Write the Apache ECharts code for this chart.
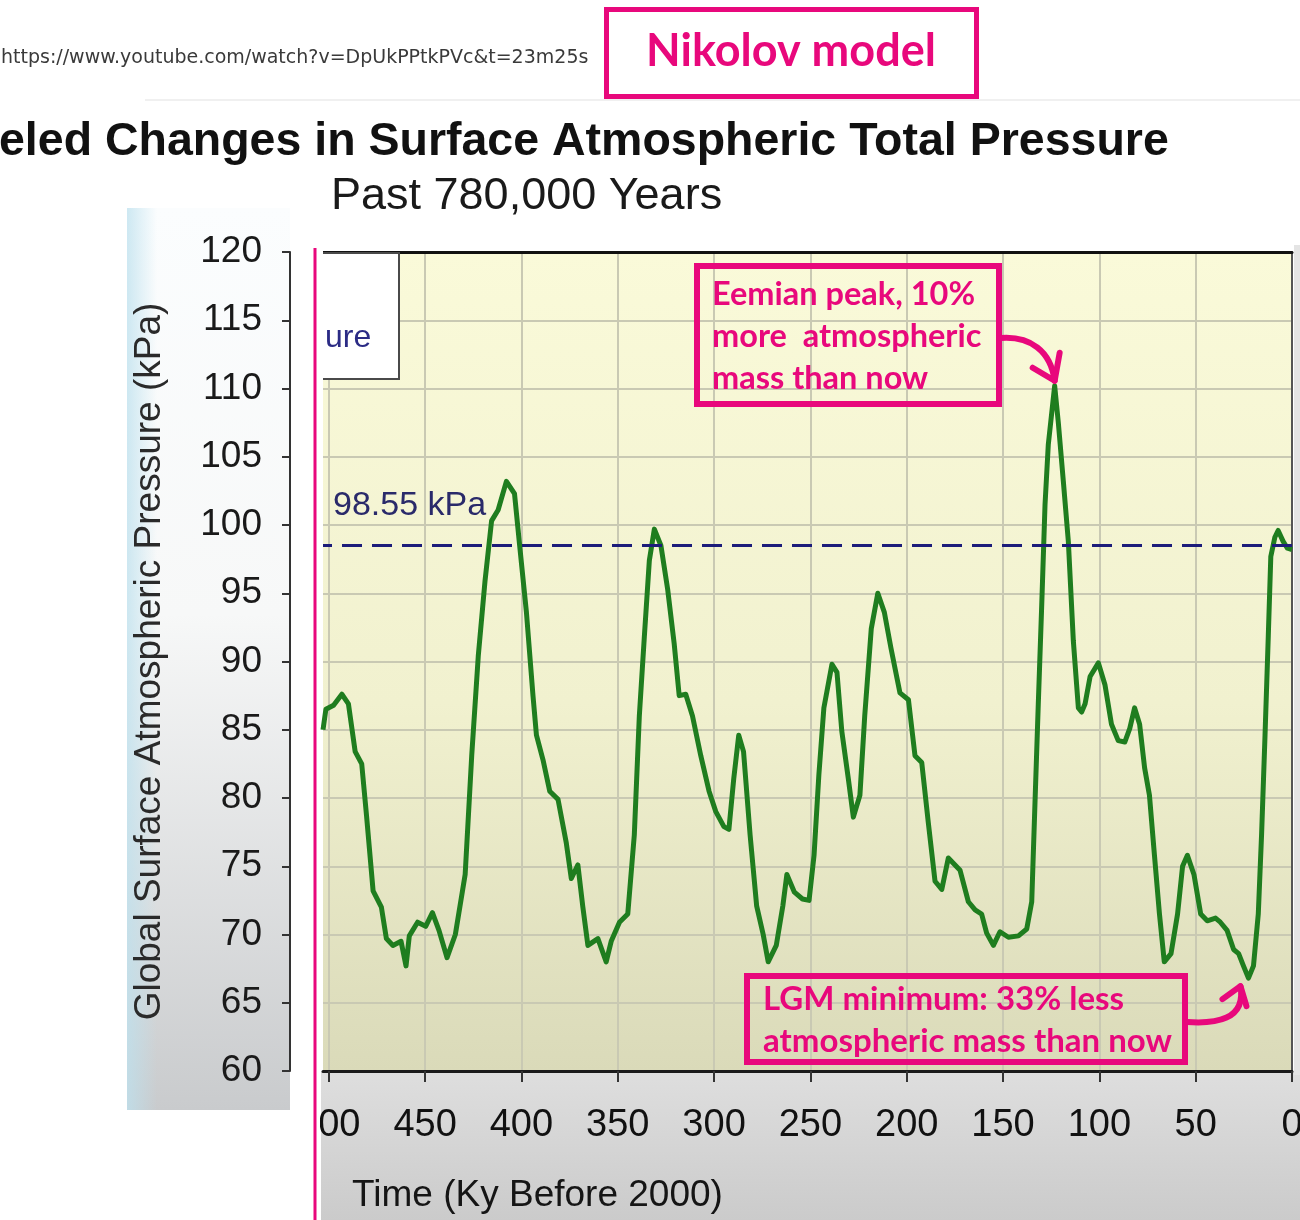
<!DOCTYPE html>
<html>
<head>
<meta charset="UTF-8">
<title>Nikolov model</title>
<style>
    html, body {
        margin: 0;
        padding: 0;
        background-color: #FFF;
    }
</style>
</head>
<body>
<div id="main" style="width:1300px;height:1220px"></div>

<script src="https://cdn.jsdelivr.net/npm/echarts/dist/echarts.min.js"></script>
<script type="text/javascript">
    // time, ky before 2000 (left to right)
    var ages = [503, 501.5, 497.5, 493.2, 489.8, 486.3, 482.9, 480.4, 477.0, 472.7,
        470.1, 466.7, 462.5, 459.9, 458.2, 453.9, 449.7, 446.2, 442.8, 438.6,
        434.3, 429.2, 425.8, 422.4, 418.9, 415.5, 412.1, 407.8, 403.6, 401.0,
        397.4, 394.0, 392.2, 388.8, 385.3, 381.0, 376.7, 374.1, 370.7, 368.1,
        365.5, 360.3, 356.0, 353.4, 349.1, 344.8, 341.4, 338.8, 336.2, 333.6,
        331.0, 327.6, 324.1, 320.7, 318.1, 314.7, 311.2, 306.9, 302.6, 299.1,
        294.9, 292.3, 289.8, 287.2, 284.7, 281.3, 277.9, 274.5, 271.9, 267.7,
        264.3, 262.2, 258.3, 254.1, 250.7, 248.1, 245.6, 243.0, 238.8, 236.2,
        233.7, 230.3, 227.7, 224.3, 221.8, 218.4, 215.0, 211.6, 208.2, 204.8,
        203.5, 199.1, 195.7, 192.2, 188.8, 185.3, 181.8, 178.4, 172.3, 168.0,
        164.5, 161.1, 158.5, 155.0, 151.6, 147.2, 142.0, 137.7, 135.1, 133.4,
        131.7, 129.9, 128.2, 126.5, 123.2, 121.3, 118.7, 116.1, 113.5, 110.9,
        109.2, 107.4, 104.8, 100.5, 97.1, 93.7, 90.2, 86.8, 84.2, 81.7,
        79.1, 76.5, 74.0, 71.4, 68.8, 66.3, 62.8, 59.4, 56.8, 54.3,
        50.9, 47.4, 44.0, 39.7, 37.2, 33.7, 30.3, 27.7, 25.2, 22.6,
        20.0, 17.5, 15.8, 14.0, 12.3, 11.0, 8.9, 7.2, 4.6, 2.4, 0];

    // global surface pressure, kPa
    var pressure = [85.0, 86.5, 86.8, 87.6, 86.9, 83.4, 82.5, 78.7, 73.2, 72.0,
        69.7, 69.2, 69.5, 67.7, 69.9, 70.9, 70.6, 71.6, 70.3, 68.3,
        70.0, 74.4, 83.1, 90.4, 95.9, 100.3, 101.1, 103.2, 102.3, 98.6,
        93.6, 87.5, 84.6, 82.8, 80.5, 79.9, 76.7, 74.1, 75.1, 72.0,
        69.2, 69.7, 68.0, 69.5, 70.9, 71.5, 77.3, 86.0, 91.8, 97.4,
        99.7, 98.5, 95.3, 91.3, 87.5, 87.6, 86.0, 83.1, 80.5, 79.0,
        77.9, 77.7, 81.4, 84.6, 83.4, 77.3, 72.1, 70.0, 68.0, 69.2,
        72.1, 74.4, 73.1, 72.6, 72.5, 75.8, 81.7, 86.6, 89.8, 89.2,
        84.9, 81.4, 78.6, 80.2, 86.0, 92.4, 95.0, 93.6, 91.0, 88.6,
        87.7, 87.2, 83.1, 82.6, 78.2, 73.9, 73.3, 75.6, 74.7, 72.4,
        71.8, 71.5, 70.1, 69.2, 70.2, 69.8, 69.9, 70.4, 72.4, 79.7,
        86.9, 94.2, 101.5, 105.9, 110.2, 107.5, 103.2, 98.8, 91.5, 86.6,
        86.3, 86.9, 88.9, 89.9, 88.3, 85.4, 84.2, 84.1, 85.1, 86.6,
        85.4, 82.2, 80.2, 75.8, 71.5, 68.0, 68.6, 71.5, 75.0, 75.8,
        74.4, 71.5, 71.0, 71.2, 70.9, 70.3, 68.9, 68.6, 67.7, 66.8,
        67.7, 71.5, 77.3, 84.6, 91.9, 97.7, 99.1, 99.6, 98.8, 98.3, 98.2];

    var timeTicks = [0, 50, 100, 150, 200, 250, 300, 350, 400, 450, 500];
    var refLevel = 98.55;
    var eemianIndex = 114;   // 123.2 ky
    var lgmIndex = 149;      // 22.6 ky

    var pink = '#e8087c';
    var axisFont = '"Liberation Sans", Arial, sans-serif';
    var noteFont = 'Lato, "Open Sans", sans-serif';

    var points = [];
    for (var i = 0; i < ages.length; i++) {
        points.push([ages[i], pressure[i]]);
    }

    var mCharts = echarts.init(document.getElementById('main'));

    var mOptions = {
        animation: false,
        backgroundColor: '#FFF',
        textStyle: {fontFamily: axisFont},
        grid: {
            left: 323,
            right: 8,
            top: 252,
            bottom: 149,
            containLabel: false,
            outerBoundsMode: 'none',
            show: true,
            borderWidth: 0,
            backgroundColor: new echarts.graphic.LinearGradient(0, 0, 0, 1, [
                {offset: 0, color: '#fafad9'},
                {offset: 0.55, color: '#f1f1cf'},
                {offset: 1, color: '#dadab9'}
            ])
        },
        xAxis: [{
            type: 'value',
            inverse: true,
            min: 0,
            max: 503,
            interval: 50,
            position: 'bottom',
            axisLine: {show: true, onZero: false, lineStyle: {color: '#1a1a1a', width: 3}},
            axisTick: {show: true, length: 11, customValues: timeTicks, lineStyle: {color: '#333', width: 2}},
            axisLabel: {
                customValues: timeTicks,
                fontSize: 38,
                color: '#111',
                margin: 36,
                fontFamily: axisFont
            },
            splitLine: {show: true, lineStyle: {color: '#c9c9b3', width: 2}},
            name: 'Time (Ky Before 2000)',
            nameLocation: 'middle',
            nameGap: 106,
            nameTextStyle: {fontSize: 37, color: '#151515', fontFamily: axisFont, padding: [0, 540, 0, 0]}
        }, {
            type: 'value',
            inverse: true,
            min: 0,
            max: 503,
            position: 'top',
            axisLine: {show: true, onZero: false, lineStyle: {color: '#111', width: 3}},
            axisTick: {show: false},
            axisLabel: {show: false},
            splitLine: {show: false}
        }],
        yAxis: [{
            type: 'value',
            min: 60,
            max: 120,
            interval: 5,
            position: 'left',
            offset: 33,
            axisLine: {show: true, onZero: false, lineStyle: {color: '#333', width: 2}},
            axisTick: {show: true, length: 8, lineStyle: {color: '#333', width: 2}},
            axisLabel: {fontSize: 37, color: '#1a1a1a', margin: 28, fontFamily: axisFont},
            splitLine: {show: true, lineStyle: {color: '#c9c9b3', width: 2}},
            name: 'Global Surface Atmospheric Pressure (kPa)',
            nameLocation: 'middle',
            nameGap: 122,
            nameRotate: 90,
            nameTextStyle: {fontSize: 37, color: '#2a2a2a', fontFamily: axisFont}
        }, {
            type: 'value',
            min: 60,
            max: 120,
            position: 'right',
            axisLine: {show: true, onZero: false, lineStyle: {color: '#555', width: 2}},
            axisTick: {show: false},
            axisLabel: {show: false},
            splitLine: {show: false}
        }],
        series: [{
            name: 'Pressure',
            type: 'line',
            data: points,
            showSymbol: false,
            symbol: 'none',
            lineStyle: {color: '#1f7d1f', width: 5, join: 'round'},
            z: 3,
            markLine: {
                silent: true,
                symbol: 'none',
                lineStyle: {color: '#1c1c7a', width: 3, type: [20, 10]},
                label: {
                    show: true,
                    position: 'insideEndTop',
                    formatter: '98.55 kPa',
                    fontSize: 34,
                    color: '#2a2a6a',
                    fontFamily: axisFont,
                    distance: [10, 22]
                },
                data: [{yAxis: refLevel}]
            }
        }]
    };

    mCharts.setOption(mOptions);

    // arrow tips follow the data points
    var pk = mCharts.convertToPixel({xAxisIndex: 0, yAxisIndex: 0}, points[eemianIndex]);
    var lg = mCharts.convertToPixel({xAxisIndex: 0, yAxisIndex: 0}, points[lgmIndex]);
    var t1 = [pk[0], pk[1] - 5];
    var t2 = [lg[0] - 8, lg[1] + 8];

    var graphics = [
        // panels behind the chart
        {type: 'rect', z: -10, shape: {x: 127, y: 208, width: 163, height: 902},
            style: {fill: new echarts.graphic.LinearGradient(0, 0, 0, 1, [
                {offset: 0, color: '#fbfdfe'},
                {offset: 0.45, color: '#f7f8f8'},
                {offset: 1, color: '#c9cbcd'}
            ])}},
        {type: 'rect', z: -9, shape: {x: 127, y: 208, width: 30, height: 902},
            style: {fill: new echarts.graphic.LinearGradient(0, 0, 1, 0, [
                {offset: 0, color: 'rgba(190,225,238,0.75)'},
                {offset: 1, color: 'rgba(190,225,238,0)'}
            ])}},
        {type: 'rect', z: -10, shape: {x: 321, y: 1072, width: 979, height: 148},
            style: {fill: new echarts.graphic.LinearGradient(0, 0, 0, 1, [
                {offset: 0, color: '#dedede'},
                {offset: 1, color: '#cbcbcb'}
            ])}},
        {type: 'rect', z: -10, shape: {x: 1294, y: 245, width: 6, height: 830}, style: {fill: '#e4e4e4'}},
        {type: 'line', z: -10, shape: {x1: 145, y1: 100, x2: 1300, y2: 100}, style: {stroke: '#f0f0f0', lineWidth: 2}},
        // cover for the cropped left part of the axis
        {type: 'rect', z: 50, shape: {x: 0, y: 1111, width: 314, height: 109}, style: {fill: '#fff'}},
        {type: 'rect', z: 50, shape: {x: 291, y: 1074, width: 29, height: 146}, style: {fill: '#fff'}},
        {type: 'line', z: 60, shape: {x1: 315, y1: 248, x2: 315, y2: 1220}, style: {stroke: pink, lineWidth: 3}},

        // header
        {type: 'text', z: 60, style: {text: 'https://www.youtube.com/watch?v=DpUkPPtkPVc&t=23m25s',
            x: 1, y: 58, font: '19px "DejaVu Sans", Verdana, sans-serif', fill: '#3a3a3a', verticalAlign: 'middle'}},
        {type: 'rect', z: 60, shape: {x: 606.5, y: 9.5, width: 370, height: 87},
            style: {fill: '#fff', stroke: pink, lineWidth: 5}},
        {type: 'text', z: 61, style: {text: 'Nikolov model', x: 791, y: 51,
            font: 'bold 45px ' + noteFont, fill: pink, align: 'center', verticalAlign: 'middle'}},
        {type: 'text', z: 60, style: {text: 'eled Changes in Surface Atmospheric Total Pressure',
            x: -1, y: 142, font: 'bold 46.5px ' + axisFont, fill: '#111', verticalAlign: 'middle'}},
        {type: 'text', z: 60, style: {text: 'Past 780,000 Years',
            x: 331, y: 197, font: '45px ' + axisFont, fill: '#1a1a1a', verticalAlign: 'middle'}},

        // cropped legend box
        {type: 'rect', z: 20, shape: {x: 318, y: 253, width: 81, height: 126},
            style: {fill: '#fff', stroke: '#4a4a4a', lineWidth: 2}},
        {type: 'rect', z: 21, shape: {x: 316, y: 250, width: 7, height: 132}, style: {fill: '#fff'}},
        {type: 'text', z: 22, style: {text: 'ure', x: 325, y: 338,
            font: '32px ' + axisFont, fill: '#2b2b85', verticalAlign: 'middle'}},

        // Eemian note
        {type: 'rect', z: 30, shape: {x: 697, y: 266, width: 302, height: 138},
            style: {fill: 'none', stroke: pink, lineWidth: 6}},
        {type: 'text', z: 30, style: {text: 'Eemian peak, 10%', x: 712, y: 295,
            font: 'bold 32.5px ' + noteFont, fill: pink, verticalAlign: 'middle'}},
        {type: 'text', z: 30, style: {text: 'more  atmospheric', x: 712, y: 337,
            font: 'bold 32.5px ' + noteFont, fill: pink, verticalAlign: 'middle'}},
        {type: 'text', z: 30, style: {text: 'mass than now', x: 712, y: 379,
            font: 'bold 32.5px ' + noteFont, fill: pink, verticalAlign: 'middle'}},
        {type: 'bezierCurve', z: 30, shape: {x1: 1001, y1: 338, cpx1: 1030, cpy1: 336, cpx2: t1[0] - 4, cpy2: t1[1] - 30, x2: t1[0], y2: t1[1]},
            style: {fill: 'none', stroke: pink, lineWidth: 6, lineCap: 'round'}},
        {type: 'polyline', z: 30, shape: {points: [[t1[0] - 22, t1[1] - 13], t1, [t1[0] + 5, t1[1] - 28]]},
            style: {fill: 'none', stroke: pink, lineWidth: 6, lineCap: 'round', lineJoin: 'round'}},

        // LGM note
        {type: 'rect', z: 30, shape: {x: 747, y: 976, width: 438, height: 86},
            style: {fill: 'none', stroke: pink, lineWidth: 6}},
        {type: 'text', z: 30, style: {text: 'LGM minimum: 33% less', x: 763, y: 999,
            font: 'bold 33px ' + noteFont, fill: pink, verticalAlign: 'middle'}},
        {type: 'text', z: 30, style: {text: 'atmospheric mass than now', x: 763, y: 1041,
            font: 'bold 33px ' + noteFont, fill: pink, verticalAlign: 'middle'}},
        {type: 'bezierCurve', z: 30, shape: {x1: 1187, y1: 1022, cpx1: 1215, cpy1: 1024, cpx2: t2[0] + 6, cpy2: t2[1] + 34, x2: t2[0], y2: t2[1]},
            style: {fill: 'none', stroke: pink, lineWidth: 6, lineCap: 'round'}},
        {type: 'polyline', z: 30, shape: {points: [[t2[0] - 18, t2[1] + 13], t2, [t2[0] + 6, t2[1] + 20]]},
            style: {fill: 'none', stroke: pink, lineWidth: 6, lineCap: 'round', lineJoin: 'round'}}
    ];

    mCharts.setOption({graphic: graphics});
</script>
</body>
</html>
